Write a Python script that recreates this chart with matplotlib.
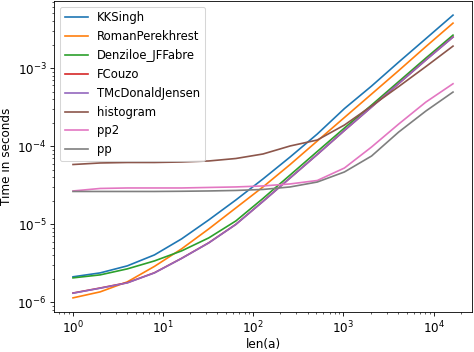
import matplotlib
matplotlib.use("Agg")
import matplotlib.pyplot as plt

OUT_PNG = "out.png"

# len(a) = 2**0 .. 2**14
n = [2 ** k for k in range(15)]

kksingh = [2.13e-6, 2.39e-6, 2.94e-6, 4.06e-6, 6.51e-6, 1.138e-5, 2.05e-5, 3.81e-5,
           7.28e-5, 1.432e-4, 3.03e-4, 5.89e-4, 1.193e-3, 2.38e-3, 4.76e-3]
roman = [1.145e-6, 1.366e-6, 1.834e-6, 2.894e-6, 4.85e-6, 8.73e-6, 1.621e-5, 3.01e-5,
         5.83e-5, 1.166e-4, 2.33e-4, 4.65e-4, 9.29e-4, 1.883e-3, 3.76e-3]
denziloe = [2.064e-6, 2.254e-6, 2.69e-6, 3.40e-6, 4.57e-6, 6.70e-6, 1.105e-5, 2.144e-5,
            4.28e-5, 8.56e-5, 1.709e-4, 3.36e-4, 6.72e-4, 1.342e-3, 2.64e-3]
fcouzo = [1.32e-6, 1.53e-6, 1.79e-6, 2.40e-6, 3.67e-6, 5.80e-6, 1.0e-5, 1.97e-5,
          3.93e-5, 7.85e-5, 1.59e-4, 3.18e-4, 6.35e-4, 1.27e-3, 2.50e-3]
tmcdonald = [1.315e-6, 1.523e-6, 1.781e-6, 2.39e-6, 3.66e-6, 5.78e-6, 9.97e-6, 1.963e-5,
             3.92e-5, 7.83e-5, 1.588e-4, 3.17e-4, 6.34e-4, 1.266e-3, 2.49e-3]
histogram = [5.83e-5, 6.10e-5, 6.19e-5, 6.19e-5, 6.28e-5, 6.47e-5, 6.96e-5, 7.95e-5,
             1.007e-4, 1.20e-4, 1.867e-4, 3.27e-4, 5.80e-4, 1.045e-3, 1.91e-3]
pp2 = [2.674e-5, 2.878e-5, 2.92e-5, 2.92e-5, 2.92e-5, 2.965e-5, 3.01e-5, 3.10e-5,
       3.29e-5, 3.64e-5, 5.26e-5, 9.77e-5, 1.923e-4, 3.67e-4, 6.30e-4]
pp = [2.634e-5, 2.634e-5, 2.634e-5, 2.634e-5, 2.65e-5, 2.674e-5, 2.714e-5, 2.795e-5,
      3.01e-5, 3.48e-5, 4.68e-5, 7.49e-5, 1.519e-4, 2.82e-4, 4.93e-4]

series = [
    ("KKSingh", kksingh),
    ("RomanPerekhrest", roman),
    ("Denziloe_JFFabre", denziloe),
    ("FCouzo", fcouzo),
    ("TMcDonaldJensen", tmcdonald),
    ("histogram", histogram),
    ("pp2", pp2),
    ("pp", pp),
]


def main():
    plt.rcParams["font.size"] = 11.5
    plt.rcParams["lines.linewidth"] = 1.6

    fig = plt.figure(figsize=(474 / 75, 352 / 75), dpi=75)
    ax = fig.add_axes([54 / 474, 40 / 352, 418 / 474, 311 / 352])

    for label, y in series:
        ax.plot(n, y, label=label)

    ax.set_xscale("log")
    ax.set_yscale("log")
    ax.set_xlabel("len(a)", labelpad=2)
    ax.set_ylabel("Time in seconds")
    ax.legend(loc="upper left", fontsize=11.2)

    fig.savefig(OUT_PNG, dpi=75)
    print(f"Saved: {OUT_PNG}")


if __name__ == "__main__":
    main()
